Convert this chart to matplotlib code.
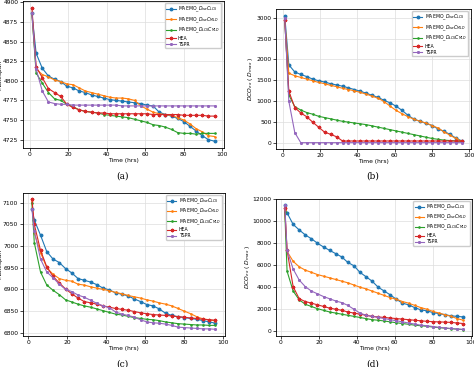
#!/usr/bin/env python3
import matplotlib.pyplot as plt

# time axis (hrs)
steps = [3.2 * k for k in range(1, 31)]
time_ab = [1] + steps
time_cd = [2] + steps

labels = [r"MAEMO_$D_{hw}C_{LCS}$", r"MAEMO_$D_{hw}C_{MLD}$",
          r"MAEMO_$D_{LCS}C_{MLD}$", "HEA", "TSPR"]

# (a) makespan
a_hw_lcs = [4886, 4835, 4816, 4806, 4802, 4799, 4793, 4791, 4787, 4785, 4782,
            4780, 4778, 4776, 4775, 4774, 4773, 4772, 4771, 4769, 4768, 4760,
            4757, 4755, 4752, 4748, 4742, 4736, 4730, 4725, 4723]
a_hw_mld = [4886, 4815, 4808, 4805, 4801, 4799, 4796, 4795, 4791, 4787, 4785,
            4783, 4781, 4779, 4778, 4778, 4777, 4775, 4768, 4764, 4760, 4758,
            4757, 4756, 4753, 4750, 4745, 4739, 4735, 4730, 4729]
a_lcs_mld = [4886, 4810, 4797, 4785, 4777, 4775, 4770, 4767, 4763, 4761, 4760,
             4759, 4757, 4756, 4755, 4754, 4753, 4751, 4749, 4747, 4744, 4743,
             4741, 4738, 4734, 4733, 4733, 4732, 4733, 4733, 4733]
a_hea = [4893, 4818, 4804, 4790, 4785, 4780, 4770, 4766, 4763, 4761, 4760,
         4759, 4759, 4758, 4758, 4758, 4758, 4758, 4758, 4758, 4757, 4757,
         4757, 4757, 4757, 4756, 4756, 4756, 4756, 4755, 4755]
a_tspr = [4886, 4815, 4787, 4773, 4771, 4770, 4770, 4769, 4769, 4769, 4769,
          4769, 4769, 4769, 4769, 4768, 4768, 4768, 4768, 4768, 4768, 4768,
          4768, 4768, 4768, 4768, 4768, 4768, 4768, 4768, 4768]

# (b) DCO
b_hw_lcs = [3050, 1870, 1700, 1640, 1590, 1530, 1490, 1460, 1420, 1390, 1360,
            1320, 1280, 1240, 1190, 1140, 1090, 1020, 960, 880, 780, 660,
            570, 520, 470, 420, 340, 280, 210, 120, 50]
b_hw_mld = [2960, 1670, 1610, 1570, 1530, 1490, 1450, 1420, 1380, 1350, 1310,
            1280, 1250, 1210, 1170, 1120, 1070, 990, 880, 780, 700, 630,
            570, 520, 480, 420, 360, 270, 190, 110, 40]
b_lcs_mld = [2950, 1150, 870, 790, 730, 690, 640, 610, 580, 550, 520,
             500, 480, 460, 440, 410, 380, 350, 320, 290, 260, 230,
             200, 170, 140, 110, 90, 70, 60, 50, 40]
b_hea = [2940, 1240, 850, 720, 630, 500, 380, 260, 210, 150, 50,
         50, 50, 50, 50, 50, 50, 50, 50, 50, 50, 50,
         50, 50, 50, 50, 50, 50, 50, 50, 50]
b_tspr = [3000, 1000, 250, 10, 10, 10, 10, 10, 10, 10, 10,
          10, 10, 10, 10, 10, 10, 10, 10, 10, 10, 10,
          10, 10, 10, 10, 10, 10, 10, 10, 10]

# (c) makespan
c_hw_lcs = [7085, 7060, 7025, 6987, 6970, 6962, 6948, 6938, 6925, 6921, 6917,
            6911, 6903, 6899, 6892, 6889, 6885, 6878, 6872, 6865, 6862, 6855,
            6845, 6840, 6837, 6835, 6833, 6831, 6828, 6825, 6822]
c_hw_mld = [7105, 7030, 6985, 6950, 6935, 6925, 6921, 6919, 6912, 6910, 6906,
            6903, 6900, 6897, 6893, 6890, 6886, 6883, 6880, 6876, 6873, 6869,
            6866, 6862, 6856, 6850, 6844, 6837, 6832, 6830, 6827]
c_lcs_mld = [7100, 7008, 6940, 6910, 6898, 6888, 6876, 6871, 6866, 6862, 6859,
             6855, 6851, 6847, 6843, 6841, 6838, 6835, 6833, 6831, 6830, 6828,
             6825, 6823, 6821, 6820, 6819, 6818, 6818, 6817, 6817]
c_hea = [7108, 7050, 6990, 6952, 6930, 6915, 6901, 6890, 6880, 6872, 6869,
         6866, 6862, 6859, 6856, 6854, 6852, 6849, 6846, 6844, 6842, 6841,
         6840, 6839, 6837, 6836, 6834, 6833, 6831, 6830, 6829]
c_tspr = [7085, 7035, 6970, 6940, 6927, 6912, 6900, 6895, 6887, 6882, 6875,
          6868, 6862, 6858, 6848, 6843, 6840, 6836, 6830, 6825, 6823, 6822,
          6820, 6817, 6813, 6812, 6811, 6810, 6809, 6809, 6808]

# (d) DCO
d_hw_lcs = [11400, 10700, 9650, 9150, 8700, 8350, 7950, 7600, 7300, 7000, 6700,
            6200, 5900, 5300, 4900, 4500, 3950, 3600, 3250, 2850, 2500, 2350,
            2100, 1900, 1800, 1650, 1550, 1450, 1350, 1300, 1250]
d_hw_mld = [11000, 7200, 6300, 5800, 5500, 5300, 5100, 4950, 4800, 4650, 4500,
            4350, 4150, 3950, 3800, 3600, 3400, 3200, 3000, 2850, 2650, 2500,
            2300, 2100, 1950, 1750, 1600, 1450, 1300, 1100, 950]
d_lcs_mld = [10800, 5400, 3600, 2800, 2400, 2200, 2000, 1850, 1700, 1600, 1500,
             1400, 1300, 1200, 1100, 1000, 950, 880, 800, 720, 650, 580,
             500, 450, 400, 330, 280, 230, 180, 140, 100]
d_hea = [11100, 7300, 4000, 2900, 2650, 2500, 2350, 2200, 2050, 1950, 1850,
         1700, 1600, 1500, 1400, 1300, 1250, 1200, 1150, 1100, 1050, 1000,
         950, 900, 850, 820, 800, 780, 750, 700, 650]
d_tspr = [11400, 7300, 5600, 4600, 4000, 3600, 3350, 3100, 2900, 2700, 2550,
          2300, 1950, 1600, 1400, 1300, 1200, 1100, 1000, 900, 800, 700,
          600, 500, 450, 380, 300, 250, 200, 150, 120]

markers = ["o", ".", ".", "P", "*"]
colors = ["tab:blue", "tab:orange", "tab:green", "tab:red", "tab:purple"]

panels = [
    ([0.048, 0.597, 0.424, 0.400], time_ab,
     [a_hw_lcs, a_hw_mld, a_lcs_mld, a_hea, a_tspr], "Makespan",
     range(4725, 4901, 25), "(a)", (0.258, 0.508)),
    ([0.582, 0.594, 0.411, 0.381], time_ab,
     [b_hw_lcs, b_hw_mld, b_lcs_mld, b_hea, b_tspr],
     r"$DCO_{ex}$ ( $D_{max}$ )", range(0, 3001, 500), "(b)", (0.787, 0.508)),
    ([0.048, 0.085, 0.426, 0.390], time_cd,
     [c_hw_lcs, c_hw_mld, c_lcs_mld, c_hea, c_tspr], "Makespan",
     range(6800, 7101, 50), "(c)", (0.258, -0.004)),
    ([0.582, 0.085, 0.414, 0.374], time_cd,
     [d_hw_lcs, d_hw_mld, d_lcs_mld, d_hea, d_tspr],
     r"$DCO_{ex}$ ( $D_{max}$ )", range(0, 12001, 2000), "(d)", (0.787, -0.004)),
]

fig = plt.figure(figsize=(4.74, 3.67), dpi=100)

for rect, t, series, ylabel, yticks, cap, cap_xy in panels:
    ax = fig.add_axes(rect)
    for s, lab, m, c in zip(series, labels, markers, colors):
        ax.plot(t, s, marker=m, markersize=1.8, linewidth=0.8, color=c,
                label=lab)
    ax.set_yticks(list(yticks))
    ax.set_xticks([0, 20, 40, 60, 80, 100])
    ax.tick_params(labelsize=4.3, length=2, width=0.5, pad=1.2)
    ax.set_xlabel("Time (hrs)", fontsize=4.3, labelpad=0.5)
    ax.set_ylabel(ylabel, fontsize=4.3, labelpad=0.5)
    ax.grid(axis="both", linewidth=0.5, color="#dddddd")
    for sp in ax.spines.values():
        sp.set_linewidth(0.6)
    ax.legend(loc="upper right", fontsize=3.3, handlelength=2.0,
              borderpad=0.35, labelspacing=0.2, handletextpad=0.5,
              framealpha=1)
    fig.text(cap_xy[0], cap_xy[1], cap, fontsize=6.5, family="DejaVu Serif",
             ha="center", va="bottom")

fig.savefig("out.png", dpi=100)
